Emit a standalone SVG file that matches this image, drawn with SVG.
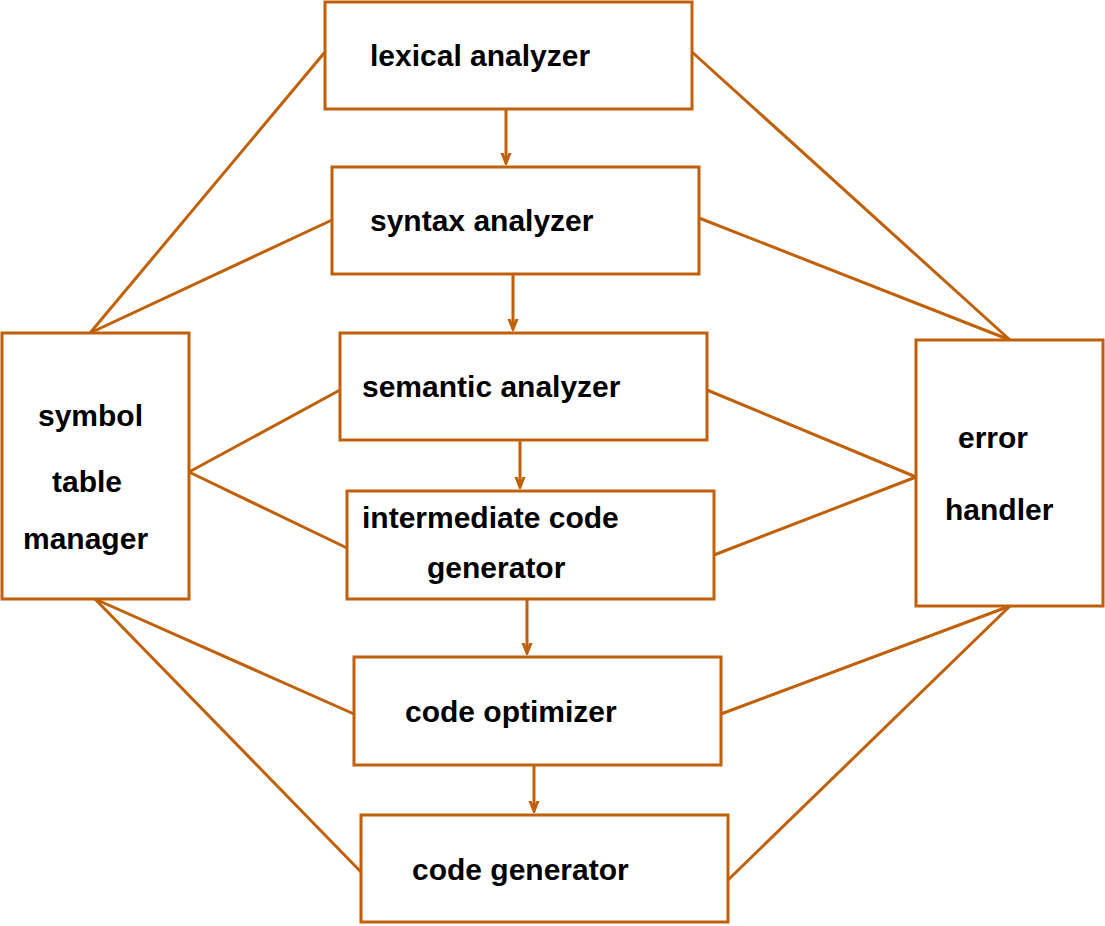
<svg xmlns="http://www.w3.org/2000/svg" width="1105" height="926" viewBox="0 0 1105 926">
<defs>
<marker id="v" markerWidth="12" markerHeight="30" refX="10" refY="15" orient="auto" markerUnits="userSpaceOnUse" viewBox="0 0 12 30">
<path d="M-18,4 L10,15 L-18,26" fill="none" stroke="#c06008" stroke-width="3"/>
</marker>
<style>
rect{fill:#fff;stroke:#c06008;stroke-width:3}
line{stroke:#c06008;stroke-width:3}
text{font-family:"Liberation Sans",Arial,sans-serif;font-weight:bold;font-size:30px;fill:#000}
</style>
</defs>
<rect width="1105" height="926" style="stroke:none"/>
<g id="connectors">
<line x1="506" y1="109" x2="506" y2="163" marker-end="url(#v)"/>
<line x1="513" y1="274" x2="513" y2="329" marker-end="url(#v)"/>
<line x1="520" y1="440" x2="520" y2="487" marker-end="url(#v)"/>
<line x1="527" y1="599" x2="527" y2="653" marker-end="url(#v)"/>
<line x1="534" y1="765" x2="534" y2="811" marker-end="url(#v)"/>
<line x1="90" y1="333" x2="325" y2="52"/>
<line x1="90" y1="333" x2="332" y2="220"/>
<line x1="189" y1="472" x2="340" y2="390"/>
<line x1="189" y1="472" x2="347" y2="548"/>
<line x1="95" y1="599" x2="354" y2="714"/>
<line x1="95" y1="599" x2="361" y2="872"/>
<line x1="1010" y1="340" x2="692" y2="52"/>
<line x1="1010" y1="340" x2="699" y2="218"/>
<line x1="916" y1="477" x2="707" y2="390"/>
<line x1="916" y1="477" x2="714" y2="555"/>
<line x1="1010" y1="606" x2="721" y2="714"/>
<line x1="1010" y1="606" x2="728" y2="880"/>
</g>
<g id="lexical"><rect x="325" y="2" width="367" height="107"/><text x="370" y="66">lexical analyzer</text></g>
<g id="syntax"><rect x="332" y="167" width="367" height="107"/><text x="370" y="231">syntax analyzer</text></g>
<g id="semantic"><rect x="340" y="333" width="367" height="107"/><text x="362" y="397">semantic analyzer</text></g>
<g id="intermediate"><rect x="347" y="491" width="367" height="108"/><text x="362" y="528">intermediate code</text><text x="427" y="578">generator</text></g>
<g id="optimizer"><rect x="354" y="657" width="367" height="108"/><text x="405" y="722">code optimizer</text></g>
<g id="generator"><rect x="361" y="815" width="367" height="107"/><text x="412" y="880">code generator</text></g>
<g id="symbol"><rect x="2" y="333" width="187" height="266"/><text x="38" y="426">symbol</text><text x="52" y="492">table</text><text x="23" y="549">manager</text></g>
<g id="error"><rect x="916" y="340" width="187" height="266"/><text x="958" y="448">error</text><text x="945" y="520">handler</text></g>
</svg>
